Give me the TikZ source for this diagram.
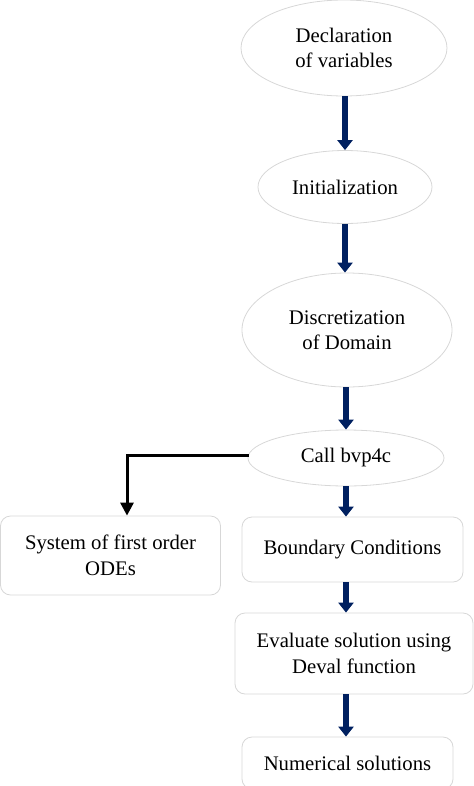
\documentclass[tikz,border=0pt]{standalone}
\usepackage{fontspec}
\setmainfont{Liberation Serif}
\usetikzlibrary{shapes.geometric,arrows.meta}
\definecolor{navy}{RGB}{0,32,96}
\definecolor{edge}{RGB}{215,215,215}
\begin{document}
\begin{tikzpicture}[x=1bp,y=-1bp,
  txt/.style={font=\fontsize{20.8}{25.5}\selectfont, align=center, text=black},
  oval/.style={txt, ellipse, draw=edge, line width=0.8bp, inner sep=0pt},
  box/.style={txt, rectangle, rounded corners=10bp, draw=edge, line width=0.8bp, inner sep=0pt},
  flow/.style={draw=navy, line width=6bp, -{Triangle[width=15bp,length=10bp]}},
  side/.style={draw=black, line width=3bp, -{Triangle[width=13bp,length=13bp]}}]
\useasboundingbox (0,0) rectangle (474,786);
\node[oval, minimum width=206bp, minimum height=96bp] (decl) at (344,48) {Declaration\\of variables};
\node[oval, minimum width=174bp, minimum height=73bp] (init) at (345,187) {Initialization};
\node[oval, minimum width=210bp, minimum height=114bp] (disc) at (347,330) {Discretization\\of Domain};
\node[oval, minimum width=196bp, minimum height=56bp] (call) at (346,458) {Call bvp4c};
\node[box, minimum width=220bp, minimum height=79bp] (sys) at (110.5,555.5) {System of first order\\ODEs};
\node[box, minimum width=221bp, minimum height=65bp] (bc) at (352.5,549.5) {Boundary Conditions};
\node[box, minimum width=238bp, minimum height=81bp] (eval) at (354,653.5) {Evaluate solution using\\Deval function};
\node[box, minimum width=211bp, minimum height=52bp] (num) at (347.5,763) {Numerical solutions};
\coordinate (corner) at (127,455);
\draw[flow] (decl.south -| 345,0) -- (init.north -| 345,0);
\draw[flow] (init.south -| 345,0) -- (disc.north -| 345,0);
\draw[flow] (disc.south -| 346,0) -- (call.north -| 346,0);
\draw[flow] (call.south -| 346,0) -- (bc.north -| 346,0);
\draw[flow] (bc.south -| 346,0) -- (eval.north -| 346,0);
\draw[flow] (eval.south -| 346,0) -- (num.north -| 346,0);
\draw[side] (call.west |- corner) ++(1,0) -- (corner) -- (sys.north -| corner);
\end{tikzpicture}
\end{document}
